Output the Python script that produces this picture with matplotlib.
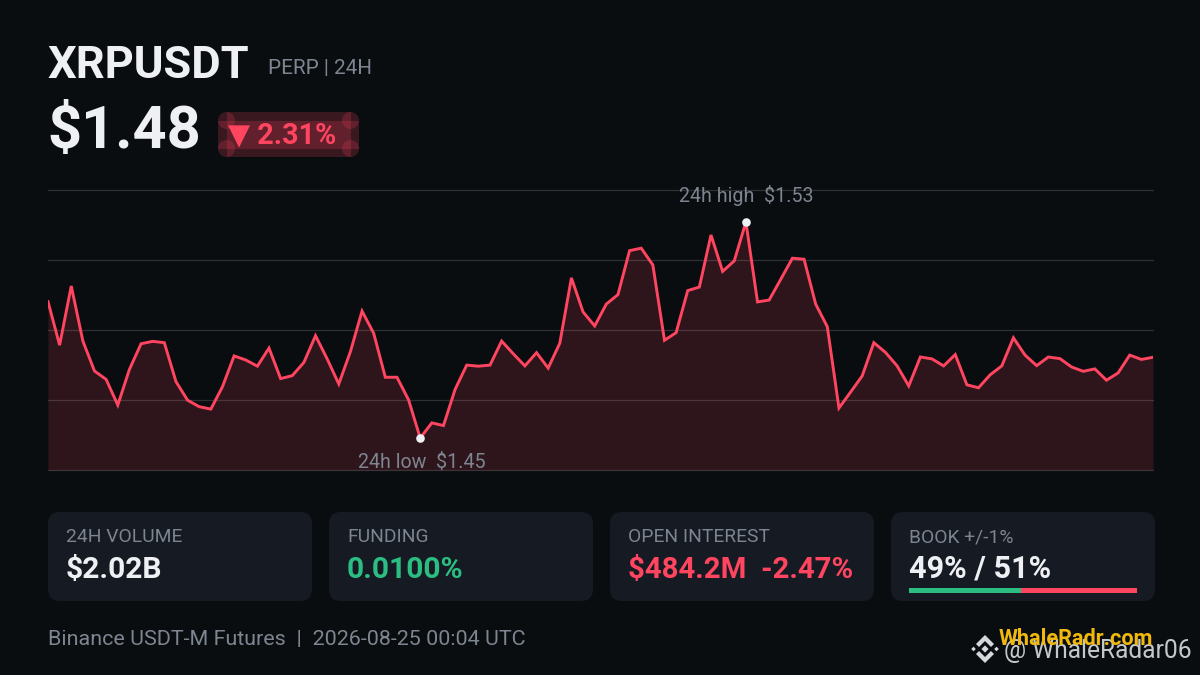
# recreate the XRPUSDT 24h perp card
import matplotlib
matplotlib.use('Agg')
import matplotlib.pyplot as plt
from matplotlib.patches import Circle, FancyBboxPatch, Polygon, Rectangle
import numpy as np

# values
prices = [
    1.5005, 1.4844, 1.5063, 1.4859, 1.4748, 1.4717, 1.4622, 1.4754, 1.4849, 1.4858,
    1.4853, 1.4709, 1.4640, 1.4616, 1.4607, 1.4690, 1.4804, 1.4789, 1.4766, 1.4833,
    1.4720, 1.4731, 1.4780, 1.4879, 1.4793, 1.4700, 1.4820, 1.4970, 1.4888, 1.4725,
    1.4725, 1.4641, 1.4500, 1.4556, 1.4546, 1.4680, 1.4770, 1.4766, 1.4770, 1.4859,
    1.4812, 1.4767, 1.4816, 1.4759, 1.4851, 1.5093, 1.4967, 1.4915, 1.4996, 1.5031,
    1.5194, 1.5203, 1.5141, 1.4862, 1.4890, 1.5046, 1.5059, 1.5252, 1.5117, 1.5156,
    1.5300, 1.5004, 1.5011, 1.5088, 1.5166, 1.5162, 1.4996, 1.4912, 1.4611, 1.4670,
    1.4730, 1.4853, 1.4817, 1.4767, 1.4693, 1.4800, 1.4793, 1.4767, 1.4809, 1.4697,
    1.4686, 1.4734, 1.4767, 1.4871, 1.4807, 1.4768, 1.4800, 1.4794, 1.4763, 1.4747,
    1.4756, 1.4714, 1.4741, 1.4807, 1.4791, 1.4799,
]
price_min = 1.43815
price_max = 1.54185

card_labels = ['24H VOLUME', 'FUNDING', 'OPEN INTEREST', 'BOOK +/-1%']
card_values = ['$2.02B', '0.0100%', '$484.2M  -2.47%', '49% / 51%']
book_bid = 49
book_ask = 51

BG = '#0a0d10'
CARD = '#161a22'
RED = '#ff4560'
GREEN = '#2bbd82'
WHITE = '#eef0f4'
GREY = '#7d8590'
GOLD = '#f0b90b'
FONT = ['Roboto', 'DejaVu Sans']
PX = 0.72  # font px to pt at dpi 100

fig = plt.figure(figsize=(12, 6.75), dpi=100, facecolor=BG)

# overlay in pixel coordinates for the card furniture
ov = fig.add_axes([0, 0, 1, 1])
ov.set_xlim(0, 1200)
ov.set_ylim(675, 0)
ov.axis('off')


def txt(x, y, s, size, color, weight='normal', ha='left'):
    ov.text(x, y, s, fontsize=size * PX, color=color, fontweight=weight, ha=ha,
            va='baseline', family=FONT, zorder=5)


txt(47.5, 78, 'XRPUSDT', 45.3, WHITE, 'bold')
txt(268, 74, 'PERP | 24H', 20.6, GREY)
txt(47, 148, '$1.48', 59.5, WHITE, 'bold')

# the badge is built from overlapping translucent shapes, as in the reference
bx0, bx1, by0, by1, br = 218, 359, 112, 157, 8.5
ov.add_patch(Rectangle((bx0 + br, by0), bx1 - bx0 - 2 * br, by1 - by0, fc=RED, alpha=0.2, lw=0))
ov.add_patch(Rectangle((bx0, by0 + br), bx1 - bx0, by1 - by0 - 2 * br, fc=RED, alpha=0.2, lw=0))
for cx in (bx0 + br, bx1 - br):
    for cy in (by0 + br, by1 - br):
        ov.add_patch(Circle((cx, cy), br, fc=RED, alpha=0.2, lw=0))
txt(228, 143, '▼ 2.31%', 28.8, RED, 'bold')

# chart
ax = fig.add_axes([48 / 1200, (675 - 470) / 675, 1105 / 1200, 280 / 675])
ax.patch.set_alpha(0)
x = np.arange(len(prices))
ax.set_xlim(0, len(prices) - 1)
ax.set_ylim(price_min, price_max)
for s in ax.spines.values():
    s.set_visible(False)
ax.set_xticks([])
ax.set_yticks([])
for g in np.linspace(price_min, price_max, 5):
    ax.axhline(g, color='white', alpha=0.15, lw=0.9, zorder=3, clip_on=False)
ax.fill_between(x, prices, price_min, color=RED, alpha=0.15, lw=0, zorder=2)
ax.plot(x, prices, color=RED, lw=2.1, solid_joinstyle='miter', zorder=4)

i_low = int(np.argmin(prices))
i_high = int(np.argmax(prices))
ax.plot([i_low, i_high], [prices[i_low], prices[i_high]], 'o', color=WHITE, ms=6.2,
        mew=0, zorder=6, clip_on=False)
ax.annotate('24h high  $1.53', (i_high, prices[i_high]), xytext=(0, 20 * PX),
            textcoords='offset points', ha='center', va='baseline', color=GREY,
            fontsize=19.6 * PX, family=FONT, zorder=7)
ax.annotate('24h low  $1.45', (i_low, prices[i_low]), xytext=(1, -30 * PX),
            textcoords='offset points', ha='center', va='baseline', color=GREY,
            fontsize=19.6 * PX, family=FONT, zorder=7)

# stat cards
card_x = [48, 329, 610, 891]
value_colors = [WHITE, GREEN, RED, WHITE]
value_sizes = [30, 30, 29.4, 30.6]
for cx, label, value, vc, vs in zip(card_x, card_labels, card_values, value_colors, value_sizes):
    ov.add_patch(FancyBboxPatch((cx + 12, 524), 264 - 24, 89 - 24,
                                boxstyle='round,pad=12,rounding_size=12', fc=CARD, lw=0))
    txt(cx + 18, 542, label, 19.3, GREY)
    txt(cx + 18, 578, value, vs, vc, 'bold')

# order book split bar
bar_x, bar_w = 909, 228
split = bar_w * book_bid / (book_bid + book_ask)
ov.add_patch(Rectangle((bar_x, 588), split, 5, fc=GREEN, lw=0, zorder=4))
ov.add_patch(Rectangle((bar_x + split, 588), bar_w - split, 5, fc=RED, lw=0, zorder=4))

txt(48, 645, 'Binance USDT-M Futures  |  2026-08-25 00:04 UTC', 21.5, GREY)

# watermark, logo drawn as small diamonds
LOGO = '#d5d8dc'
for lx, ly, r in [(985, 649, 3.6), (973.5, 649, 2.3), (996.5, 649, 2.3)]:
    ov.add_patch(Polygon([(lx - r, ly), (lx, ly - r), (lx + r, ly), (lx, ly + r)], fc=LOGO, lw=0))
ov.add_patch(Polygon([(985, 635), (994, 644), (991, 647), (985, 641), (979, 647), (976, 644)], fc=LOGO, lw=0))
ov.add_patch(Polygon([(985, 663), (994, 654), (991, 651), (985, 657), (979, 651), (976, 654)], fc=LOGO, lw=0))
txt(1004, 658, '@ WhaleRadar06', 24.6, '#c4c8cc')
txt(999, 645, 'WhaleRadr.com', 21.7, GOLD, 'bold')

fig.savefig('out.png', dpi=100, facecolor=BG)
